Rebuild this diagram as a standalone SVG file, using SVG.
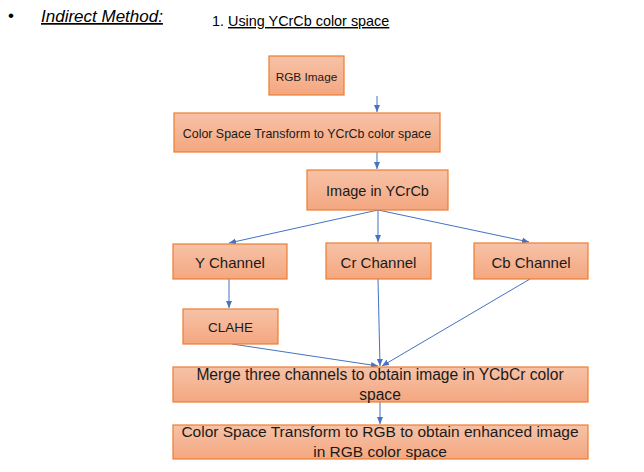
<svg xmlns="http://www.w3.org/2000/svg" width="644" height="472" viewBox="0 0 644 472">
<defs>
<linearGradient id="g" x1="0" y1="0" x2="0" y2="1">
<stop offset="0" stop-color="#f7c2a7"/>
<stop offset="1" stop-color="#f4a780"/>
</linearGradient>
<marker id="ah" markerWidth="8" markerHeight="8" refX="7" refY="4" orient="auto" markerUnits="userSpaceOnUse">
<path d="M0,1 L7,4 L0,7 Z" fill="#4472c4"/>
</marker>
<style>
.box{fill:url(#g);stroke:#ed7d31;stroke-width:1.2}
.t{font-family:"Liberation Sans",Arial,sans-serif;font-size:12px;fill:#1a1a1a;text-anchor:middle}
.ch{font-size:15px}
.big{font-size:15.5px}
.c{stroke:#4472c4;stroke-width:1;fill:none;marker-end:url(#ah)}
.h{font-family:"Liberation Sans",Arial,sans-serif;fill:#000}
</style>
</defs>
<rect width="644" height="472" fill="#fff"/>
<g id="header">
<text class="h" x="8" y="21" font-size="17">•</text>
<text class="h" x="41" y="22" font-size="17" font-style="italic" text-decoration="underline">Indirect Method:</text>
<text class="h" x="212" y="26" font-size="14.4">1. <tspan text-decoration="underline">Using YCrCb color space</tspan></text>
</g>
<g id="connectors">
<line class="c" x1="377" y1="96" x2="377" y2="112"/>
<line class="c" x1="377" y1="152" x2="377" y2="169"/>
<line class="c" x1="378" y1="210" x2="229" y2="243"/>
<line class="c" x1="378" y1="210" x2="378" y2="242"/>
<line class="c" x1="378" y1="210" x2="529" y2="242"/>
<line class="c" x1="229" y1="279" x2="229" y2="308"/>
<line class="c" x1="232" y1="344" x2="378" y2="366"/>
<line class="c" x1="378" y1="279" x2="380" y2="366"/>
<line class="c" x1="530" y1="279" x2="382" y2="366"/>
<line class="c" x1="380" y1="402" x2="380" y2="424"/>
</g>
<g id="rgb-image">
<rect class="box" x="269" y="56" width="75" height="39"/>
<text class="t" x="306.5" y="81" style="font-size:11.8px">RGB Image</text>
</g>
<g id="cst-ycrcb">
<rect class="box" x="174" y="113" width="266" height="39"/>
<text class="t" x="307" y="138" style="font-size:12.4px">Color Space Transform to YCrCb color space</text>
</g>
<g id="image-ycrcb">
<rect class="box" x="307" y="170" width="141" height="40"/>
<text class="t" x="377.5" y="196" style="font-size:14.5px">Image in YCrCb</text>
</g>
<g id="y-channel">
<rect class="box" x="173" y="244" width="114" height="35"/>
<text class="t ch" x="230" y="268">Y Channel</text>
</g>
<g id="cr-channel">
<rect class="box" x="326" y="243" width="105" height="36"/>
<text class="t ch" x="378.5" y="268">Cr Channel</text>
</g>
<g id="cb-channel">
<rect class="box" x="474" y="243" width="114" height="36"/>
<text class="t ch" x="531" y="268">Cb Channel</text>
</g>
<g id="clahe">
<rect class="box" x="183" y="309" width="95" height="35"/>
<text class="t" x="230.5" y="332" style="font-size:13.5px">CLAHE</text>
</g>
<g id="merge">
<rect class="box" x="173" y="367" width="415" height="35"/>
<text class="t big" x="380" y="380" style="font-size:15.6px">Merge three channels to obtain image in YCbCr color</text>
<text class="t big" x="380" y="400" style="font-size:15.6px">space</text>
</g>
<g id="cst-rgb">
<rect class="box" x="173" y="425" width="415" height="34"/>
<text class="t big" x="380" y="437">Color Space Transform to RGB to obtain enhanced image</text>
<text class="t big" x="380" y="457">in RGB color space</text>
</g>
</svg>
